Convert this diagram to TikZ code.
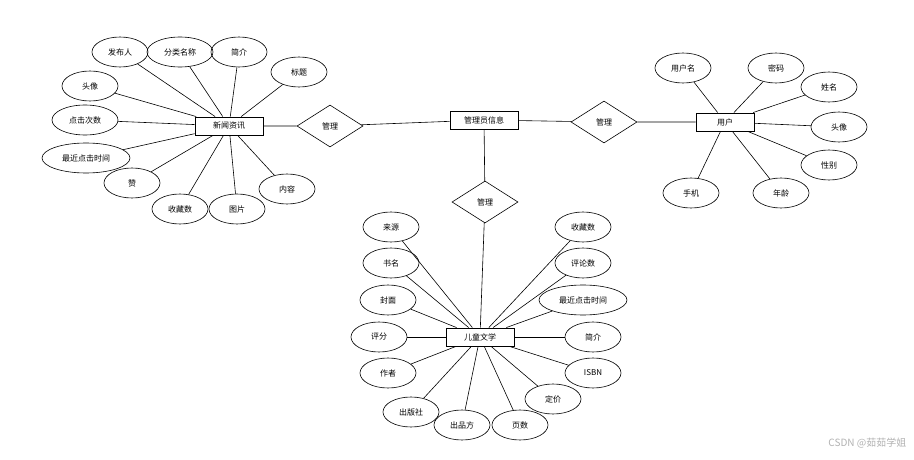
\documentclass[tikz,border=0pt]{standalone}
\usepackage{fontspec}
\setmainfont{Noto Sans CJK SC}
\usetikzlibrary{shapes.geometric}
\begin{document}
\begin{tikzpicture}[x=1pt,y=-1pt,font=\fontsize{8}{9}\selectfont,
  every path/.style={line width=0.6pt},
  ent/.style={draw,line width=0.9pt,minimum width=68pt,minimum height=18pt,inner sep=0pt},
  attr/.style={draw,ellipse,minimum width=56pt,minimum height=30pt,inner sep=0pt},
  wattr/.style={attr,minimum width=66pt},
  xattr/.style={attr,minimum width=88pt},
  rel/.style={draw,diamond,aspect=1.6,minimum width=66pt,minimum height=42pt,inner sep=0pt}]
\useasboundingbox (0,0) rectangle (914,460);
\fill[white] (0,0) rectangle (914,460);
% news
\node[ent] (news) at (229,126) {新闻资讯};
\node[attr] (fbr) at (120,52) {发布人};
\node[wattr] (flmc) at (180,52) {分类名称};
\node[attr] (jj1) at (239,52) {简介};
\node[attr] (bt) at (299,72) {标题};
\node[attr] (tx1) at (90,86) {头像};
\node[wattr] (djcs) at (85,120) {点击次数};
\node[xattr] (zj1) at (86,158) {最近点击时间};
\node[attr] (zan) at (132,183) {赞};
\node[attr] (scs1) at (180,209) {收藏数};
\node[attr] (tp) at (237,209) {图片};
\node[attr] (nr) at (287,189) {内容};
\foreach \a in {fbr,flmc,jj1,bt,tx1,djcs,zj1,zan,scs1,tp,nr} \draw (\a) -- (news);
% admin
\node[rel] (gl1) at (330,126) {管理};
\node[ent] (admin) at (484,120) {管理员信息};
\node[rel] (gl2) at (604,122) {管理};
\node[ent,minimum width=58pt] (user) at (725,122) {用户};
\node[rel] (gl3) at (485,202) {管理};
\draw (news) -- (gl1) -- (admin) -- (gl2) -- (user);
\draw (admin) -- (gl3);
% user
\node[attr] (yhm) at (683,68) {用户名};
\node[attr] (mm) at (776,68) {密码};
\node[attr] (xm) at (829,87) {姓名};
\node[attr] (tx2) at (839,127) {头像};
\node[attr] (xb) at (829,165) {性别};
\node[attr] (nl) at (781,193) {年龄};
\node[attr] (sj) at (691,193) {手机};
\foreach \a in {yhm,mm,xm,tx2,xb,nl,sj} \draw (\a) -- (user);
% book
\node[ent] (book) at (480,337) {儿童文学};
\draw (gl3) -- (book);
\node[attr] (ly) at (391,227) {来源};
\node[attr] (sm) at (391,263) {书名};
\node[attr] (fm) at (388,300) {封面};
\node[attr] (pf) at (379,337) {评分};
\node[attr] (zz) at (388,373) {作者};
\node[attr] (cbs) at (411,412) {出版社};
\node[attr] (cpf) at (462,425) {出品方};
\node[attr] (ys) at (520,425) {页数};
\node[attr] (dj) at (553,399) {定价};
\node[attr] (isbn) at (593,373) {ISBN};
\node[attr] (jj2) at (593,337) {简介};
\node[xattr] (zj2) at (583,300) {最近点击时间};
\node[attr] (pls) at (583,263) {评论数};
\node[attr] (scs2) at (583,227) {收藏数};
\foreach \a in {ly,sm,fm,pf,zz,cbs,cpf,ys,dj,isbn,jj2,zj2,pls,scs2} \draw (\a) -- (book);
\node[text=gray!60,font=\fontsize{10}{12}\selectfont,anchor=east] (wm) at (910,443) {CSDN @茹茹学姐};
\end{tikzpicture}
\end{document}
